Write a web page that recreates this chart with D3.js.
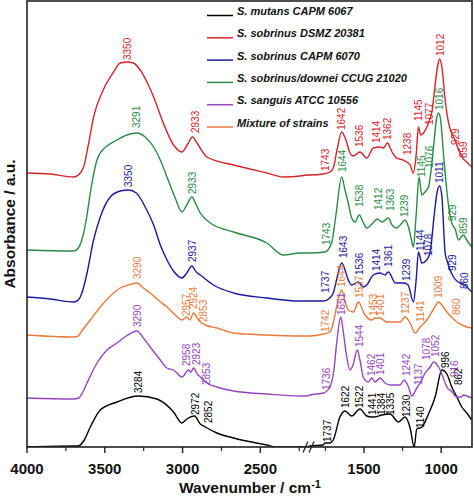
<!DOCTYPE html>
<html>
<head>
<meta charset="utf-8">
<script src="https://cdn.jsdelivr.net/npm/d3@7"></script>
<style>
  html, body { margin: 0; padding: 0; background: #fff; }
  svg { display: block; font-family: "Liberation Sans", Arial, sans-serif; }
</style>
</head>
<body>
<div id="chart"></div>
<script>
// FTIR spectra, x in cm-1, y in arbitrary absorbance units (offset stack)
const majorTicks = [4000, 3500, 3000, 2500, 1500, 1000];
const minorTicks = [3750, 3250, 2750, 2250, 1750, 1250];

const seriesNames = [
  "S. mutans CAPM 6067",
  "S. sobrinus DSMZ 20381",
  "S. sobrinus CAPM 6070",
  "S. sobrinus/downei CCUG 21020",
  "S. sanguis ATCC 10556",
  "Mixture of strains"
];

const mutans = [
  [4000, 0.00], [3700, 0.01], [3670, 0.01], [3632, 0.07], [3593, 0.20], [3529, 0.37],
  [3422, 0.45], [3284, 0.51], [3165, 0.48], [3058, 0.35], [3004, 0.24], [2972, 0.28],
  [2923, 0.31], [2886, 0.23], [2854, 0.20], [2779, 0.14], [2672, 0.09], [2458, 0.02],
  [2393, 0.00], [2244, 0.00], [2200, 0.00], [1850, 0.01], [1764, 0.02], [1753, 0.04],
  [1721, 0.04], [1699, 0.07], [1656, 0.30], [1623, 0.36], [1580, 0.31], [1526, 0.38],
  [1482, 0.31], [1450, 0.30], [1429, 0.30], [1385, 0.32], [1331, 0.33], [1277, 0.25],
  [1234, 0.30], [1201, 0.19], [1175, 0.00], [1158, 0.18], [1125, 0.20], [1082, 0.33],
  [1039, 0.50], [995, 0.77], [963, 0.73], [931, 0.60], [898, 0.50], [866, 0.40],
  [834, 0.34], [801, 0.27]
];

const sobrinusDSMZ = [
  [4000, 2.74], [3850, 2.73], [3700, 2.70], [3670, 2.72], [3636, 2.80], [3606, 3.02],
  [3572, 3.30], [3510, 3.57], [3443, 3.75], [3400, 3.84], [3351, 3.85], [3317, 3.84],
  [3272, 3.77], [3229, 3.65], [3186, 3.50], [3124, 3.24], [3058, 3.02], [3004, 2.95],
  [2970, 3.02], [2936, 3.10], [2907, 3.04], [2843, 2.90], [2672, 2.82], [2458, 2.74],
  [2351, 2.70], [2244, 2.71], [2200, 2.72], [1850, 2.72], [1764, 2.73], [1721, 2.75],
  [1699, 2.79], [1675, 2.97], [1645, 3.15], [1617, 3.07], [1591, 2.94], [1571, 2.91],
  [1526, 2.95], [1482, 2.89], [1440, 2.99], [1396, 3.00], [1373, 2.99], [1349, 3.04],
  [1318, 2.95], [1288, 2.89], [1247, 2.87], [1223, 2.85], [1201, 2.82], [1180, 2.74],
  [1162, 2.92], [1147, 3.20], [1133, 3.12], [1115, 3.14], [1082, 3.24], [1058, 3.37],
  [1039, 3.62], [1023, 3.81], [1010, 3.88], [996, 3.81], [974, 3.47], [953, 3.25],
  [931, 3.13], [909, 3.07], [887, 2.97], [856, 2.88], [834, 2.85], [801, 2.80]
];

const sobrinusCAPM = [
  [4000, 1.50], [3850, 1.48], [3700, 1.45], [3670, 1.47], [3647, 1.54], [3614, 1.74],
  [3572, 2.07], [3529, 2.30], [3465, 2.50], [3400, 2.56], [3347, 2.57], [3297, 2.54],
  [3240, 2.40], [3186, 2.22], [3143, 2.02], [3100, 1.87], [3058, 1.76], [3004, 1.69],
  [2973, 1.74], [2940, 1.81], [2912, 1.75], [2886, 1.72], [2801, 1.62], [2672, 1.54],
  [2458, 1.49], [2244, 1.46], [2200, 1.46], [1850, 1.46], [1764, 1.46], [1721, 1.49],
  [1699, 1.54], [1675, 1.69], [1645, 1.84], [1623, 1.77], [1602, 1.67], [1580, 1.62],
  [1537, 1.65], [1505, 1.60], [1482, 1.62], [1440, 1.72], [1396, 1.74], [1364, 1.72],
  [1342, 1.75], [1296, 1.64], [1242, 1.64], [1214, 1.62], [1180, 1.45], [1162, 1.67],
  [1147, 1.95], [1125, 1.84], [1093, 1.87], [1071, 1.95], [1045, 2.32], [1026, 2.55],
  [1010, 2.61], [996, 2.52], [974, 1.94], [963, 1.87], [942, 1.77], [920, 1.70],
  [898, 1.66], [877, 1.64], [856, 1.63], [834, 1.60], [801, 1.55]
];

const downei = [
  [4000, 1.97], [3700, 1.96], [3670, 1.99], [3636, 2.14], [3614, 2.32], [3593, 2.54],
  [3550, 2.87], [3529, 2.94], [3486, 3.01], [3422, 3.07], [3358, 3.12], [3293, 3.14],
  [3240, 3.10], [3186, 3.00], [3143, 2.87], [3100, 2.70], [3047, 2.49], [3004, 2.35],
  [2973, 2.42], [2940, 2.50], [2912, 2.42], [2886, 2.34], [2822, 2.24], [2672, 2.15],
  [2458, 2.04], [2351, 1.92], [2244, 1.94], [2200, 1.94], [1850, 1.94], [1753, 1.95],
  [1710, 2.04], [1682, 2.32], [1645, 2.70], [1623, 2.57], [1602, 2.44], [1580, 2.29],
  [1558, 2.25], [1531, 2.32], [1506, 2.25], [1482, 2.19], [1448, 2.23], [1414, 2.28],
  [1383, 2.25], [1342, 2.29], [1318, 2.22], [1288, 2.19], [1260, 2.23], [1234, 2.27],
  [1214, 2.21], [1195, 2.09], [1180, 2.00], [1162, 2.32], [1143, 2.70], [1125, 2.52],
  [1104, 2.55], [1082, 2.60], [1065, 2.77], [1045, 3.07], [1029, 3.29], [1017, 3.34],
  [1003, 3.27], [987, 2.97], [967, 2.62], [948, 2.37], [931, 2.24], [909, 2.18],
  [887, 2.07], [870, 2.10], [856, 2.12], [834, 2.07], [801, 2.00]
];

const sanguis = [
  [4000, 0.49], [3700, 0.48], [3668, 0.49], [3644, 0.54], [3614, 0.64], [3550, 0.84],
  [3486, 0.97], [3422, 1.04], [3362, 1.11], [3293, 1.16], [3252, 1.09], [3208, 1.00],
  [3143, 0.87], [3100, 0.79], [3058, 0.77], [3004, 0.70], [2961, 0.77], [2947, 0.75],
  [2929, 0.79], [2906, 0.73], [2886, 0.70], [2854, 0.65], [2779, 0.60], [2672, 0.56],
  [2458, 0.53], [2244, 0.51], [2200, 0.51], [1850, 0.52], [1764, 0.54], [1721, 0.60],
  [1695, 0.77], [1675, 1.07], [1651, 1.30], [1636, 1.17], [1612, 0.90], [1591, 0.77],
  [1571, 0.82], [1544, 0.97], [1526, 0.87], [1505, 0.70], [1472, 0.65], [1450, 0.69],
  [1429, 0.65], [1396, 0.69], [1364, 0.64], [1331, 0.62], [1266, 0.62], [1240, 0.67],
  [1214, 0.61], [1190, 0.51], [1158, 0.59], [1136, 0.64], [1104, 0.74], [1071, 0.80],
  [1049, 0.85], [1017, 0.80], [993, 0.72], [963, 0.60], [935, 0.56], [898, 0.50],
  [870, 0.50], [856, 0.52], [834, 0.51], [801, 0.49]
];

const mixture = [
  [4000, 1.12], [3700, 1.10], [3670, 1.11], [3657, 1.14], [3593, 1.27], [3529, 1.40],
  [3443, 1.54], [3400, 1.59], [3349, 1.62], [3293, 1.64], [3252, 1.59], [3208, 1.54],
  [3157, 1.47], [3100, 1.40], [3047, 1.32], [3004, 1.27], [2972, 1.30], [2954, 1.27],
  [2929, 1.34], [2906, 1.29], [2886, 1.25], [2854, 1.22], [2779, 1.19], [2672, 1.14],
  [2458, 1.12], [2244, 1.11], [2200, 1.11], [1850, 1.11], [1764, 1.13], [1721, 1.15],
  [1699, 1.24], [1675, 1.42], [1645, 1.57], [1623, 1.46], [1602, 1.37], [1569, 1.35],
  [1537, 1.45], [1494, 1.32], [1450, 1.27], [1429, 1.29], [1396, 1.29], [1353, 1.25],
  [1266, 1.25], [1234, 1.30], [1201, 1.24], [1169, 1.14], [1136, 1.20], [1093, 1.27],
  [1049, 1.38], [1017, 1.45], [996, 1.42], [963, 1.35], [898, 1.25], [834, 1.20],
  [801, 1.19]
];

// peak labels: [position cm-1, absorbance at label foot, text]
const mutansPeaks = [
  [3284, 0.54, "3284"], [2917, 0.32, "2972"], [2833, 0.24, "2852"], [1734, 0.05, "1737"],
  [1623, 0.39, "1622"], [1526, 0.39, "1522"], [1444, 0.32, "1441"], [1385, 0.32, "1384"],
  [1327, 0.32, "1335"], [1227, 0.30, "1230"], [1132, 0.19, "1140"], [974, 0.79, "996"],
  [887, 0.62, "862"]
];
const sobrinusDSMZPeaks = [
  [3351, 3.87, "3350"], [2917, 3.14, "2933"], [1747, 2.76, "1743"], [1645, 3.17, "1642"],
  [1532, 3.00, "1536"], [1418, 3.04, "1414"], [1349, 3.07, "1362"], [1219, 2.92, "1238"],
  [1147, 3.26, "1145"], [1077, 3.22, "1077"], [1006, 3.91, "1012"], [909, 3.02, "929"],
  [856, 2.89, "859"]
];
const sobrinusCAPMPeaks = [
  [3347, 2.60, "3350"], [2936, 1.85, "2937"], [1747, 1.54, "1737"], [1634, 1.89, "1643"],
  [1526, 1.72, "1536"], [1418, 1.76, "1414"], [1342, 1.80, "1361"], [1227, 1.66, "1239"],
  [1136, 1.96, "1144"], [1082, 1.91, "1078"], [1010, 2.64, "1011"], [925, 1.76, "929"],
  [851, 1.58, "860"]
];
const downeiPeaks = [
  [3297, 3.19, "3291"], [2936, 2.53, "2933"], [1745, 2.02, "1743"], [1639, 2.75, "1644"],
  [1532, 2.40, "1538"], [1407, 2.37, "1412"], [1331, 2.36, "1363"], [1240, 2.30, "1239"],
  [1130, 2.70, "1145"], [1078, 2.79, "1076"], [1010, 3.37, "1016"], [925, 2.26, "929"],
  [856, 2.13, "859"]
];
const sanguisPeaks = [
  [3287, 1.20, "3290"], [2972, 0.81, "2958"], [2912, 0.82, "2923"], [2843, 0.62, "2853"],
  [1745, 0.57, "1736"], [1645, 1.32, "1651"], [1531, 1.00, "1544"], [1450, 0.71, "1462"],
  [1396, 0.72, "1401"], [1227, 0.71, "1242"], [1147, 0.62, "1137"], [1093, 0.87, "1078"],
  [1039, 0.90, "1052"], [914, 0.70, "916"]
];
const mixturePeaks = [
  [3287, 1.68, "3290"], [2975, 1.31, "2957"], [2929, 1.38, "2924"], [2867, 1.25, "2853"],
  [1750, 1.15, "1742"], [1645, 1.60, "1644"], [1531, 1.49, "1537"], [1440, 1.31, "1453"],
  [1396, 1.31, "1401"], [1234, 1.33, "1237"], [1136, 1.25, "1141"], [1017, 1.49, "1009"],
  [898, 1.32, "860"]
];

const colors = ["#000000", "#d2262b", "#1a1a9e", "#2a8b45", "#9545c2", "#e67a3c"];

const seriesData = [mutans, sobrinusDSMZ, sobrinusCAPM, downei, sanguis, mixture];
const seriesPeaks = [mutansPeaks, sobrinusDSMZPeaks, sobrinusCAPMPeaks, downeiPeaks, sanguisPeaks, mixturePeaks];

const width = 474, height = 496;
const frame = { left: 27, right: 472, top: 1, bottom: 447 };

const svg = d3.select("#chart").append("svg")
  .attr("width", width)
  .attr("height", height);

// broken axis: 2200..1850 squeezed into 3px
const x = d3.scaleLinear()
  .domain([4000, 2200, 1850, 800])
  .range([frame.left, 307, 310, frame.right]);

const y = d3.scaleLinear()
  .domain([0, 4.46])
  .range([frame.bottom, frame.top]);

svg.append("defs").append("clipPath").attr("id", "plotclip")
  .append("rect")
  .attr("x", frame.left).attr("y", frame.top)
  .attr("width", frame.right - frame.left).attr("height", frame.bottom - frame.top);

const line = d3.line()
  .curve(d3.curveMonotoneX)
  .x(d => x(d[0]))
  .y(d => y(d[1]));

const plot = svg.append("g").attr("clip-path", "url(#plotclip)");

plot.selectAll(".spectrum")
  .data(seriesData)
  .enter()
  .append("path")
  .attr("class", "spectrum")
  .attr("d", line)
  .attr("fill", "none")
  .attr("stroke", (d, i) => colors[i])
  .attr("stroke-width", 1.4)
  .attr("stroke-linejoin", "round");

// peak labels
seriesPeaks.forEach((peaks, i) => {
  svg.append("g").selectAll("text")
    .data(peaks)
    .enter()
    .append("text")
    .attr("transform", d => `translate(${x(d[0])},${y(d[1])}) rotate(-90)`)
    .attr("dy", "0.35em")
    .attr("text-anchor", "start")
    .style("font-size", "10px")
    .style("fill", colors[i])
    .text(d => d[2]);
});

// frame
svg.append("rect")
  .attr("x", frame.left).attr("y", frame.top)
  .attr("width", frame.right - frame.left).attr("height", frame.bottom - frame.top)
  .attr("fill", "none")
  .attr("stroke", "#222")
  .attr("stroke-width", 1.6);

// x axis ticks (outward)
const xAxis = svg.append("g").attr("transform", `translate(0,${frame.bottom})`);
xAxis.selectAll(".major")
  .data(majorTicks)
  .enter()
  .append("line")
  .attr("x1", d => x(d)).attr("x2", d => x(d))
  .attr("y1", 0).attr("y2", 6)
  .attr("stroke", "#222").attr("stroke-width", 1.4);
xAxis.selectAll(".minor")
  .data(minorTicks)
  .enter()
  .append("line")
  .attr("x1", d => x(d)).attr("x2", d => x(d))
  .attr("y1", 0).attr("y2", 4)
  .attr("stroke", "#222").attr("stroke-width", 1.2);
xAxis.selectAll(".tlabel")
  .data(majorTicks)
  .enter()
  .append("text")
  .attr("x", d => x(d))
  .attr("y", 27)
  .attr("text-anchor", "middle")
  .style("font-size", "15px")
  .style("font-weight", "bold")
  .style("fill", "#111")
  .text(d => d);

// axis break marks
const bx = (x(2200) + x(1850)) / 2;
[-3, 3].forEach(off => {
  xAxis.append("line")
    .attr("x1", bx + off - 2.5).attr("y1", 5.5)
    .attr("x2", bx + off + 2.5).attr("y2", -5.5)
    .attr("stroke", "#222").attr("stroke-width", 1.3);
});

// axis titles
const xt = svg.append("text")
  .attr("x", 250)
  .attr("y", 493)
  .attr("text-anchor", "middle")
  .style("font-size", "15.5px")
  .style("font-weight", "bold")
  .style("fill", "#111");
xt.append("tspan").text("Wavenumber / cm");
xt.append("tspan").attr("dy", -5).style("font-size", "11px").text("-1");

svg.append("text")
  .attr("transform", "translate(15,224) rotate(-90)")
  .attr("text-anchor", "middle")
  .style("font-size", "15.5px")
  .style("font-weight", "bold")
  .style("fill", "#111")
  .text("Absorbance / a.u.");

// legend
const legend = svg.append("g");
seriesNames.forEach((name, i) => {
  const ly = 15.5 + i * 22.3;
  legend.append("line")
    .attr("x1", 207).attr("x2", 233)
    .attr("y1", ly).attr("y2", ly)
    .attr("stroke", colors[i]).attr("stroke-width", 1.5);
  legend.append("text")
    .attr("x", 237).attr("y", ly - 0.5)
    .style("font-size", "11px")
    .style("font-weight", "bold")
    .style("font-style", "italic")
    .style("fill", "#111")
    .text(name);
});
</script>
</body>
</html>
